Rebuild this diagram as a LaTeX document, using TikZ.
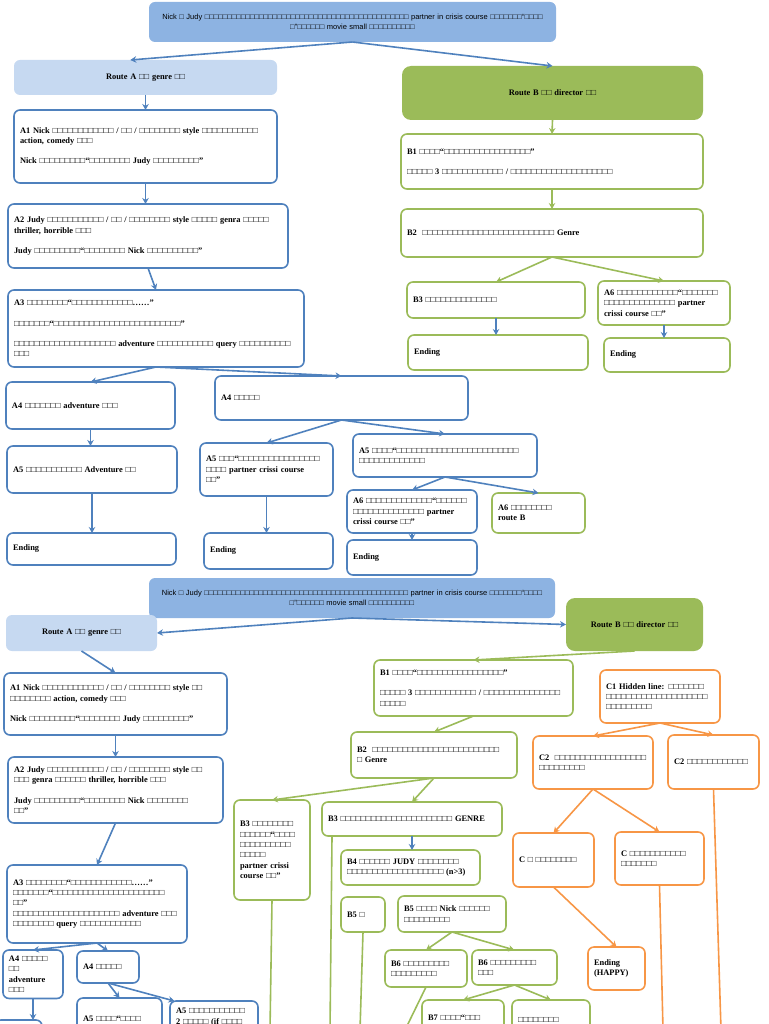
\documentclass[tikz,border=0pt]{standalone}
\usepackage{fontspec}
\setmainfont{Liberation Serif}
\newfontfamily\titlefont{Liberation Sans}
\usetikzlibrary{arrows.meta}

\definecolor{nodeblue}{HTML}{4F81BD}
\definecolor{nodegreen}{HTML}{9BBB59}
\definecolor{nodeorange}{HTML}{F79646}
\definecolor{titleblue}{HTML}{8DB3E2}
\definecolor{routeblue}{HTML}{C6D9F1}

% the CJK text prints as empty boxes
\newcommand{\tofu}[1]{\ifnum#1>0 □\expandafter\tofu\expandafter{\the\numexpr#1-1\relax}\fi}

\tikzset{
  wh/.style 2 args={minimum width=#1pt, minimum height=#2pt, text width=#1pt-12pt},
  bluebox/.style={draw=nodeblue, line width=1.6pt, rounded corners=6pt, fill=white,
    anchor=north west, outer sep=0pt, inner sep=6pt, align=left,
    font=\fontsize{8.4}{10.3}\selectfont\bfseries},
  greenbox/.style={bluebox, draw=nodegreen},
  orangebox/.style={bluebox, draw=nodeorange},
  headbox/.style={fill=titleblue, rounded corners=6pt, anchor=north west,
    outer sep=0pt, inner sep=6pt, align=center,
    font=\titlefont\fontsize{7.5}{10}\selectfont},
  routea/.style={headbox, fill=routeblue, font=\fontsize{8.4}{10.3}\selectfont\bfseries},
  routeb/.style={routea, fill=nodegreen, rounded corners=9pt},
  barrow/.style={->, draw=nodeblue, line width=1.6pt},
  garrow/.style={barrow, draw=nodegreen},
  oarrow/.style={barrow, draw=nodeorange},
  gline/.style={draw=nodegreen, line width=1.6pt},
  oline/.style={draw=nodeorange, line width=1.6pt},
}

\begin{document}
\begin{tikzpicture}[x=1pt, y=-1pt, >={Stealth[length=6pt, width=6.5pt]}]
\useasboundingbox (0,0) rectangle (768,1024);
\clip (0,0) rectangle (768,1024);

% upper chart
\node[headbox, wh={407}{40}] (T1) at (149,2) {Nick \tofu{1} Judy \tofu{45} partner in crisis course \tofu{7}“\tofu{4}\\\tofu{1}”\tofu{6} movie small \tofu{10}};
\node[routea, wh={263}{35}] (RA) at (14,60) {Route A \tofu{2} genre \tofu{2}};
\node[routeb, wh={301}{54}] (RB) at (402,66) {Route B \tofu{2} director \tofu{2}};

\node[bluebox, wh={263}{73}] (A1) at (14,110) {A1 Nick \tofu{12} / \tofu{2} / \tofu{8} style \tofu{11}\\action, comedy \tofu{3}\\[10pt]Nick \tofu{9}“\tofu{8} Judy \tofu{9}”};
\node[bluebox, wh={280}{64}] (A2) at (8,204) {A2 Judy \tofu{11} / \tofu{2} / \tofu{8} style \tofu{5} genra \tofu{5}\\thriller, horrible \tofu{3}\\[10pt]Judy \tofu{9}“\tofu{8} Nick \tofu{10}”};
\node[bluebox, wh={296}{77}] (A3) at (8,290) {A3 \tofu{8}“\tofu{12}……”\\[10pt]\tofu{7}“\tofu{25}”\\[10pt]\tofu{20} adventure \tofu{11} query \tofu{10}\\\tofu{3}};
\node[bluebox, wh={169}{47}] (A4a) at (6,382) {A4 \tofu{7} adventure \tofu{3}};
\node[bluebox, wh={253}{44}] (A4b) at (215,376) {A4 \tofu{5}};
\node[bluebox, wh={170}{47}] (A5a) at (7,446) {A5 \tofu{11} Adventure \tofu{2}};
\node[bluebox, wh={133}{53}] (A5b) at (200,443) {A5 \tofu{3}“\tofu{16}\\\tofu{4} partner crissi course\\\tofu{2}”};
\node[bluebox, wh={184}{43}] (A5c) at (353,434) {A5 \tofu{4}“\tofu{24}\\\tofu{13}};
\node[bluebox, wh={130}{43}] (A6a) at (347,490) {A6 \tofu{13}“\tofu{6}\\\tofu{14} partner\\crissi course \tofu{2}”};
\node[greenbox, wh={93}{40}] (A6b) at (492,493) {A6 \tofu{8}\\route B};
\node[bluebox, wh={169}{32}] (E1) at (7,533) {Ending};
\node[bluebox, wh={129}{36}] (E2) at (204,533) {Ending};
\node[bluebox, wh={130}{35}] (E3) at (347,540) {Ending};

\node[greenbox, wh={302}{55}] (B1) at (401,134) {B1 \tofu{4}“\tofu{17}”\\[10pt]\tofu{5} 3 \tofu{12} / \tofu{20}};
\node[greenbox, wh={302}{48}] (B2) at (401,209) {B2 \ \tofu{26} Genre};
\node[greenbox, wh={178}{36}] (B3t) at (407,282) {B3 \tofu{14}};
\node[greenbox, wh={132}{44}] (A6r) at (598,281) {A6 \tofu{12}“\tofu{7}\\\tofu{14} partner\\crissi course \tofu{2}”};
\node[greenbox, wh={180}{35}] (Et1) at (408,335) {Ending};
\node[greenbox, wh={126}{34}] (Et2) at (604,338) {Ending};

% upper arrows
\draw[barrow] (T1.south) -- (RA.131);
\draw[barrow] (T1.south) -- (RB.north);
\draw[barrow] (RA.south) -- (A1.north);
\draw[barrow] (A1.south) -- (A1.south |- A2.north);
\draw[barrow] (A2.south) -- (A3.north);
\draw[barrow] (A3.south) -- (A4a.north);
\draw[barrow] (A3.south) -- (A4b.north);
\draw[barrow] (A4a.south) -- (A4a.south |- A5a.north);
\draw[barrow] (A4b.south) -- (A5b.north);
\draw[barrow] (A4b.south) -- (A5c.north);
\draw[barrow] (A5c.south) -- (A6a.north);
\draw[barrow] (A5c.south) -- (A6b.north);
\draw[barrow] (A5a.south) -- (A5a.south |- E1.north);
\draw[barrow] (A5b.south) -- (A5b.south |- E2.north);
\draw[barrow] (A6a.south) -- (A6a.south |- E3.north);
\draw[garrow] (RB.south) -- (B1.north);
\draw[garrow] (B1.south) -- (B2.north);
\draw[garrow] (B2.south) -- (B3t.north);
\draw[garrow] (B2.south) -- (A6r.north);
\draw[barrow] (B3t.south) -- (B3t.south |- Et1.north);
\draw[barrow] (A6r.south) -- (A6r.south |- Et2.north);

% lower chart
\node[headbox, wh={406}{40}] (T2) at (149,578) {Nick \tofu{1} Judy \tofu{45} partner in crisis course \tofu{7}“\tofu{4}\\\tofu{1}”\tofu{6} movie small \tofu{10}};
\node[routea, wh={151}{36}] (RA2) at (6,615) {Route A \tofu{2} genre \tofu{2}};
\node[routeb, wh={137}{53}] (RB2) at (566,598) {Route B \tofu{2} director \tofu{2}};

\node[bluebox, wh={223}{62}] (A1b) at (4,673) {A1 Nick \tofu{12} / \tofu{2} / \tofu{8} style \tofu{2}\\\tofu{8} action, comedy \tofu{3}\\[10pt]Nick \tofu{9}“\tofu{8} Judy \tofu{9}”};
\node[bluebox, wh={215}{66}] (A2b) at (8,757) {A2 Judy \tofu{11} / \tofu{2} / \tofu{8} style \tofu{2}\\\tofu{3} genra \tofu{6} thriller, horrible \tofu{3}\\[10pt]Judy \tofu{9}“\tofu{8} Nick \tofu{8}\\\tofu{2}”};
\node[bluebox, wh={180}{78}] (A3b) at (7,865) {A3 \tofu{8}“\tofu{12}……”\\\tofu{7}“\tofu{22}\\\tofu{2}”\\\tofu{21} adventure \tofu{3}\\\tofu{8} query \tofu{12}};
\node[bluebox, wh={60}{47}] (A4c) at (3,950) {A4 \tofu{5}\\\tofu{2}\\adventure\\\tofu{3}};
\node[bluebox, wh={62}{32}] (A4d) at (77,951) {A4 \tofu{5}};
\node[bluebox, wh={85}{42}] (A5d) at (77,998) {A5 \tofu{4}“\tofu{4}};
\node[bluebox, wh={88}{32}] (A5e) at (170,1001) {A5 \tofu{11}\\2 \tofu{5} (if \tofu{4}};
\node[bluebox, wh={47}{30}] (A5f) at (-5,1020) {};

\node[greenbox, wh={199}{56}] (B1b) at (374,660) {B1 \tofu{4}“\tofu{17}”\\[10pt]\tofu{5} 3 \tofu{12} / \tofu{15}\\\tofu{5}};
\node[greenbox, wh={166}{46}] (B2b) at (351,732) {B2 \ \tofu{25}\\\tofu{1} Genre};
\node[greenbox, wh={76}{100}] (B3c) at (234,800) {B3 \tofu{8}\\\tofu{6}“\tofu{4}\\\tofu{10}\\\tofu{5}\\partner crissi\\course \tofu{2}”};
\node[greenbox, wh={180}{34}] (B3d) at (322,802) {B3 \tofu{22} GENRE};
\node[greenbox, wh={139}{35}] (B4) at (341,850) {B4 \tofu{6} JUDY \tofu{8}\\\tofu{19} (n>3)};
\node[greenbox, wh={44}{35}] (B5a) at (341,897) {B5 \tofu{1}};
\node[greenbox, wh={108}{36}] (B5b) at (398,896) {B5 \tofu{4} Nick \tofu{6}\\\tofu{9}};
\node[greenbox, wh={82}{37}] (B6a) at (385,950) {B6 \tofu{9}\\\tofu{9}};
\node[greenbox, wh={85}{35}] (B6b) at (472,950) {B6 \tofu{9}\\\tofu{3}};
\node[greenbox, wh={82}{36}] (B7) at (422,1000) {B7 \tofu{4}“\tofu{3}};
\node[greenbox, wh={78}{40}] (B8) at (512,1000) {\tofu{8}};

\node[orangebox, wh={120}{53}] (C1) at (600,670) {C1 Hidden line: \tofu{7}\\\tofu{20}\\\tofu{9}};
\node[orangebox, wh={120}{53}] (C2a) at (533,736) {C2 \ \tofu{18}\\\tofu{9}};
\node[orangebox, wh={91}{54}] (C2b) at (668,735) {C2 \tofu{12}};
\node[orangebox, wh={81}{54}] (Ca) at (513,833) {C \tofu{1} \tofu{8}};
\node[orangebox, wh={89}{53}] (Cb) at (615,832) {C \tofu{11}\\\tofu{7}};
\node[orangebox, wh={57}{43}] (EH) at (588,947) {Ending\\(HAPPY)};

\coordinate (g1) at (270,1030);
\coordinate (g2) at (330,1030);
\coordinate (g3) at (360,1030);
\coordinate (g4) at (405,1030);
\coordinate (o1) at (663,1030);
\coordinate (o2) at (721,1030);

% lower arrows
\draw[barrow] (T2.south) -- (RA2.east);
\draw[barrow] (T2.south) -- (RB2.west);
\draw[barrow] (RA2.south) -- (A1b.north);
\draw[barrow] (A1b.south) -- (A1b.south |- A2b.north);
\draw[barrow] (A2b.south) -- (A3b.north);
\draw[barrow] (A3b.south) -- (A4c.north);
\draw[barrow] (A3b.south) -- (A4d.north);
\draw[barrow] (A4d.south) -- (A5d.north);
\draw[barrow] (A4d.south) -- (A5e.158);
\draw[barrow] (A4c.south) -- (A4c.south |- A5f.north);

\draw[garrow] (RB2.south) -- (B1b.north);
\draw[garrow] (B1b.south) -- (B2b.north);
\draw[garrow] (B2b.south) -- (B3c.north);
\draw[garrow] (B2b.south) -- (B3d.north);
\draw[barrow] (B3d.south) -- (B3d.south |- B4.north);
\draw[garrow] (B5b.south) -- (B6a.north);
\draw[garrow] (B5b.south) -- (B6b.north);
\draw[garrow] (B6b.south) -- (B7.north);
\draw[garrow] (B6b.south) -- (B8.north);
\draw[gline] (B3c.south) -- (g1);
\draw[gline] (B3d.192) -- (g2);
\draw[gline] (B5a.south) -- (g3);
\draw[gline] (B6a.south) -- (g4);

\draw[oarrow] (C1.south) -- (C2a.north);
\draw[oarrow] (C1.south) -- (C2b.north);
\draw[oarrow] (C2a.south) -- (Ca.north);
\draw[oarrow] (C2a.south) -- (Cb.north);
\draw[oarrow] (Ca.south) -- (EH.north);
\draw[oline] (Cb.south) -- (o1);
\draw[oline] (C2b.south) -- (o2);
\end{tikzpicture}
\end{document}
